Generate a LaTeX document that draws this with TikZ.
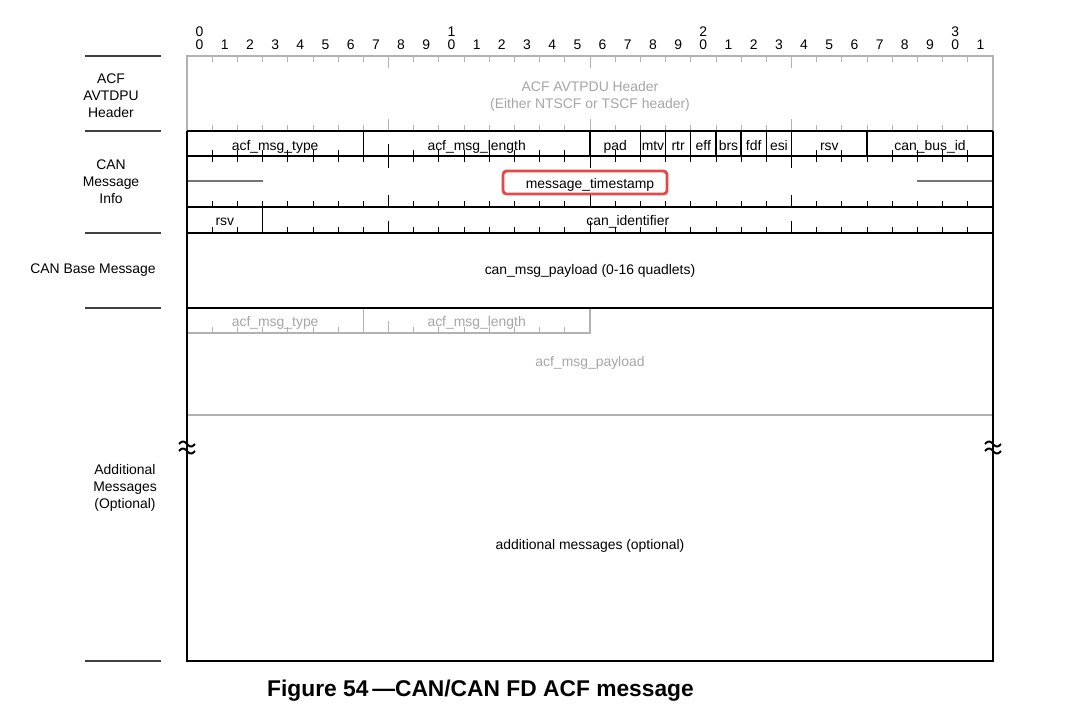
\documentclass[tikz,border=0pt]{standalone}
\usepackage{fontspec}
\setmainfont{Liberation Sans}
\definecolor{hl}{RGB}{230,72,72}
\definecolor{lg}{RGB}{178,178,178}
\definecolor{lgt}{RGB}{165,165,165}
\begin{document}
\begin{tikzpicture}[x=0.025cm,y=-0.025cm,
  blk/.style={line width=1pt,black},
  gry/.style={line width=0.8pt,lg},
  tk/.style={line width=0.6pt},
  lbl/.style={font=\fontsize{9.9}{12}\selectfont,inner sep=0pt,align=center},
  glbl/.style={lbl,text=lgt},
  side/.style={line width=0.8pt,black!75},
  redbox/.style={line width=2pt,hl,rounded corners=2.5pt},
  brk/.style={line width=1.4pt,black},
  figcap/.style={font=\fontsize{16.2}{19}\selectfont\bfseries,inner sep=0pt}]
\useasboundingbox (0,0) rectangle (1066,718);
\def\bw{25.1875}
% bit numbers
\foreach \i in {0,...,31}{
  \pgfmathtruncatemacro\d{mod(\i,10)}
  \node[lbl] (b\i) at ({187+(\i+0.5)*\bw},45) {\d};
}
\foreach \i/\t in {0/0,10/1,20/2,30/3}{
  \node[lbl] (t\i) at ({187+(\i+0.5)*\bw},32) {\t};
}
% left side lines
\foreach \y in {56,131,233,308,661}{
  \draw[side] (85,\y) -- (161,\y);
}
% left labels
\node[lbl] (lh) at (111,95.5) {ACF\\AVTDPU\\Header};
\node[lbl] (lc) at (111,181.5) {CAN\\Message\\Info};
\node[lbl] (lb) at (93,270) {CAN Base Message};
\node[lbl] (la) at (125,488) {Additional\\Messages\\(Optional)};
% header box (gray)
\draw[gry] (187,131) -- (187,56) -- (993,56) -- (993,131);
\foreach \i in {1,...,31}{
  \pgfmathtruncatemacro\m{mod(\i,8)}
  \ifnum\m=0 \def\L{12}\else\def\L{6}\fi
  \draw[tk,lg] ({187+\i*\bw},56) -- ++(0,\L);
  \draw[tk,lg] ({187+\i*\bw},131) -- ++(0,-\L);
}
\node[glbl] (hdr) at (590,96.5) {ACF AVTPDU Header\\(Either NTSCF or TSCF header)};
% ticks in black rows
\foreach \i in {1,...,31}{
  \pgfmathtruncatemacro\m{mod(\i,8)}
  \ifnum\m=0 \def\L{12}\else\def\L{6}\fi
  \draw[tk] ({187+\i*\bw},156) -- ++(0,-\L);
  \draw[tk] ({187+\i*\bw},156) -- ++(0,\L);
  \draw[tk] ({187+\i*\bw},207) -- ++(0,-\L);
  \draw[tk] ({187+\i*\bw},233) -- ++(0,-\L);
}
% gray acf row ticks
\foreach \i in {1,...,15}{
  \pgfmathtruncatemacro\m{mod(\i,8)}
  \ifnum\m=0 \def\L{12}\else\def\L{6}\fi
  \draw[tk,lg] ({187+\i*\bw},333) -- ++(0,-\L);
}
% gray acf row
\draw[gry] (187,333) -- (590,333) -- (590,308);
\draw[gry] ({187+7*\bw},308) -- ({187+7*\bw},333);
\draw[gry] (187,415) -- (993,415);
\node[glbl,anchor=base] (gt) at ({187+3.5*\bw},326.5) {acf\_msg\_type};
\node[glbl,anchor=base] (gl) at ({187+11.5*\bw},326.5) {acf\_msg\_length};
\node[glbl] (gp) at (590,363) {acf\_msg\_payload};
% continuation lines in timestamp
\draw[line width=0.8pt,black!55] (187,181) -- ({187+3*\bw},181);
\draw[line width=0.8pt,black!55] ({187+29*\bw},181) -- (993,181);
% black frame and rows
\draw[blk] (187,131) -- (993,131);
\draw[blk] (187,156) -- (993,156);
\draw[blk] (187,207) -- (993,207);
\draw[blk] (187,233) -- (993,233);
\draw[blk] (187,308) -- (993,308);
\draw[blk] (187,131) -- (187,661) -- (993,661) -- (993,131);
% row 1 dividers
\foreach \b in {7,16,18,19,20,21,22,23,24,27}{
  \draw[blk] ({187+\b*\bw},131) -- ({187+\b*\bw},156);
}
\draw[blk] ({187+3*\bw},207) -- ({187+3*\bw},233);
% row 1 labels
\foreach \n/\s/\e/\t in {f0/0/7/acf\_msg\_type,f1/7/16/acf\_msg\_length,f2/16/18/pad,f3/18/19/mtv,f4/19/20/rtr,f5/20/21/eff,f6/21/22/brs,f7/22/23/fdf,f8/23/24/esi,f9/24/27/rsv,f10/27/32/can\_bus\_id}{
  \node[lbl,anchor=base] (\n) at ({187+(\s+\e)/2*\bw},150.5) {\t};
}
\node[lbl,anchor=base] (ts) at (590,188.5) {message\_timestamp};
\draw[redbox] (503,171) rectangle (667,194);
\node[lbl,anchor=base] (r4a) at ({187+1.5*\bw},225) {rsv};
\node[lbl,anchor=base] (r4b) at ({187+17.5*\bw},225) {can\_identifier};
\node[lbl] (pl) at (590,271) {can\_msg\_payload (0-16 quadlets)};
\node[lbl] (am) at (590,546) {additional messages (optional)};
% break marks
\foreach \bx in {187,993}{
  \foreach \yy in {444,451}{
    \draw[brk] plot[domain=-8:8,samples=25,variable=\t] ({\bx+\t},{\yy+2.5*sin(\t*180/8)});
  }
}
% caption
\node[figcap] (caption) at (480.5,690.5) {Figure 54\,—CAN/CAN FD ACF message};
\end{tikzpicture}
\end{document}
